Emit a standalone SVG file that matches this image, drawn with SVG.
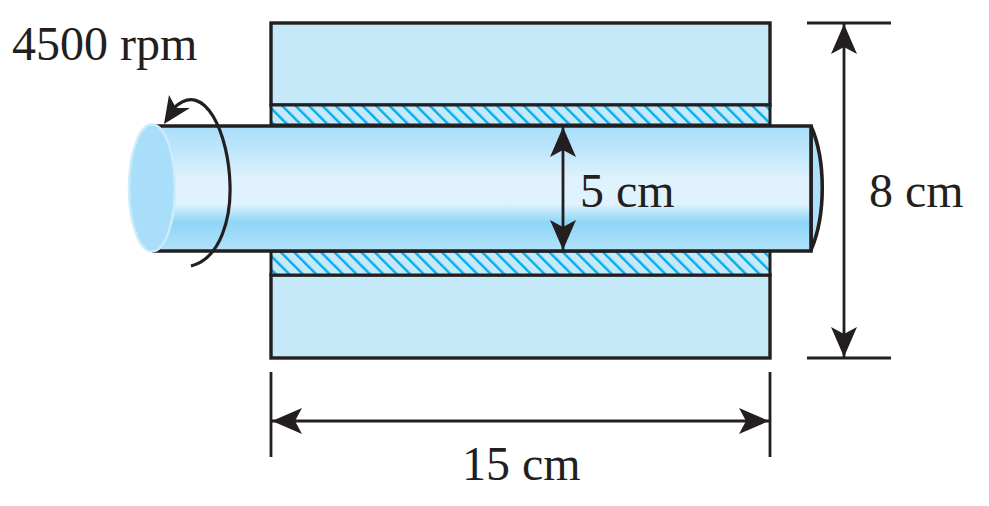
<svg xmlns="http://www.w3.org/2000/svg" width="989" height="506" viewBox="0 0 989 506">
<style>
.ln{stroke:#231f20;stroke-width:3.6;fill:none}
.dim{stroke:#231f20;stroke-width:2.8;fill:none}
.t{font-family:"Liberation Serif","Times New Roman",serif;font-size:48px;fill:#231f20}
.block{fill:#c6e9fa;stroke:#231f20;stroke-width:3.400}
</style>
<defs>
<linearGradient id="shaft" x1="0" y1="0" x2="0" y2="1">
<stop offset="0" stop-color="#a9defa"/>
<stop offset="0.2" stop-color="#bfe6fb"/>
<stop offset="0.42" stop-color="#dff2fd"/>
<stop offset="0.62" stop-color="#e0f3fd"/>
<stop offset="0.77" stop-color="#8ed6f7"/>
<stop offset="1" stop-color="#b2e2fa"/>
</linearGradient>
<pattern id="hatch" width="9.500" height="9.500" patternUnits="userSpaceOnUse" patternTransform="rotate(-45)">
<rect width="9.500" height="9.500" fill="#c6e9fa"/>
<rect x="0" y="0" width="2.400" height="9.500" fill="#00aeef"/>
</pattern>
<marker id="ah" viewBox="0 0 30 28" refX="30" refY="14" markerWidth="30" markerHeight="28" markerUnits="userSpaceOnUse" orient="auto-start-reverse">
<path d="M30 14 L0 1 L7 14 L0 27Z" fill="#231f20"/>
</marker>
</defs>
<g id="housing-top"><rect class="block" x="271" y="23" width="499" height="82"/></g>
<g id="housing-bottom"><rect class="block" x="271" y="275" width="499" height="83"/></g>
<g id="bearing-top"><rect x="271" y="105" width="499" height="20" fill="url(#hatch)" stroke="#231f20" stroke-width="3"/></g>
<g id="bearing-bottom"><rect x="271" y="251" width="499" height="24" fill="url(#hatch)" stroke="#231f20" stroke-width="3"/></g>
<g id="shaft-group">
<path d="M811 126 C826 160 826 215 811 250Z" class="ln" style="fill:#ade0fb"/>
<rect x="152" y="126" width="658" height="125" fill="url(#shaft)"/>
<path d="M152 126H811V251H152" class="ln"/>
<ellipse cx="152" cy="188" rx="23" ry="63.500" fill="#a9defa" stroke="#cdecfb" stroke-width="2.500"/>
</g>
<g id="connectors">
<path class="dim" d="M807 23H891M807 358H891M271 372V457M770 372V457"/>
<path class="dim" d="M844 24V357" marker-start="url(#ah)" marker-end="url(#ah)"/>
<path class="dim" d="M272 421H769" marker-start="url(#ah)" marker-end="url(#ah)"/>
<path class="dim" d="M563 127V250" marker-start="url(#ah)" marker-end="url(#ah)"/>
<path d="M191 266 C222 258 231 215 230 185 C229 135 205 78 174 108" stroke="#231f20" stroke-width="3.200" fill="none"/>
<path d="M164 124 L169 95 L176 108 L190 108Z" fill="#231f20"/>
</g>
<g id="labels">
<text class="t" x="12" y="60">4500 rpm</text>
<text class="t" x="580" y="207">5 cm</text>
<text class="t" x="869" y="207">8 cm</text>
<text class="t" x="462" y="480">15 cm</text>
</g>
</svg>
